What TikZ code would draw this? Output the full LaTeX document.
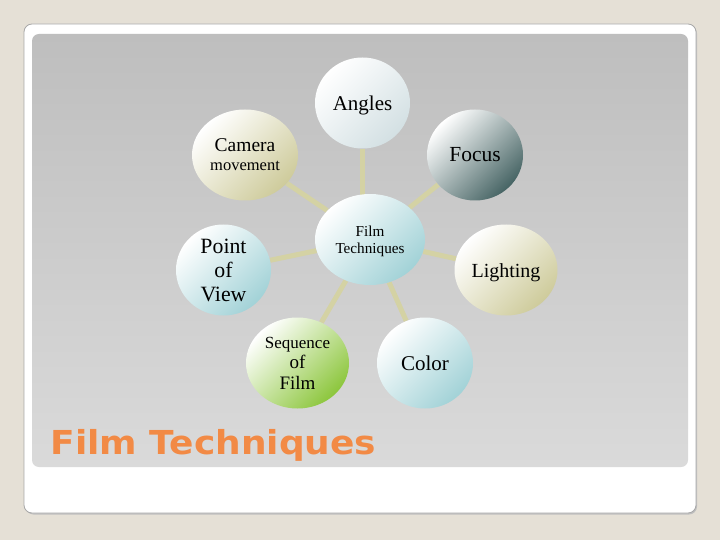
\documentclass[tikz,border=0pt]{standalone}
\usepackage{fontspec}
\setmainfont{Liberation Serif}
\newfontfamily\titlefont{DejaVu Sans}[FakeStretch=1.09]
\usetikzlibrary{shapes.geometric}
\pgfdeclarelayer{bg}
\pgfdeclarelayer{conn}
\pgfsetlayers{bg,conn,main}
\definecolor{pagebg}{HTML}{E5E0D6}
\definecolor{cardline}{HTML}{A8A8A8}
\definecolor{paneltop}{HTML}{BEBEBE}
\definecolor{panelbot}{HTML}{DADADA}
\definecolor{connc}{HTML}{D4D2A4}
\definecolor{titlec}{HTML}{F28A45}
\definecolor{angc}{HTML}{D3E0E3}
\definecolor{khakic}{HTML}{CECB9B}
\definecolor{focusc}{HTML}{466464}
\definecolor{tealc}{HTML}{A2D2D7}
\definecolor{greenc}{HTML}{8CC63C}
\begin{document}
\begin{tikzpicture}[x=1pt,y=-1pt,
  bub/.style={ellipse, inner sep=0pt, align=center, shading=axis,
    top color=white, middle color=white, bottom color=#1, shading angle=45},
  conn/.style={line width=5pt, draw=connc}]
\useasboundingbox (0,0) rectangle (720,540);
\begin{pgfonlayer}{bg}
\fill[pagebg] (0,0) rectangle (720,540);
\fill[black!25, rounded corners=8pt] (25.5,25.5) rectangle (697,514.5);
\draw[cardline, fill=white, line width=0.8pt, rounded corners=8pt] (24,24) rectangle (696,513);
\shade[top color=paneltop, bottom color=panelbot, rounded corners=7pt] (32,34) rectangle (688,467);
\end{pgfonlayer}

\node[bub=angc, minimum width=95pt, minimum height=91pt, text height=28pt, text depth=12pt,
  font=\fontsize{21}{24}\selectfont] (angles) at (362.5,103) {Angles};
\node[bub=khakic, minimum width=106pt, minimum height=91pt, text height=35.7pt, text depth=4.3pt,
  font=\fontsize{19.5}{19}\selectfont] (camera) at (245,155)
  {Camera\\{\fontsize{16.5}{19}\selectfont movement}};
\node[bub=focusc, minimum width=96pt, minimum height=91pt, text height=26.7pt, text depth=13.3pt,
  font=\fontsize{21.5}{24}\selectfont] (focus) at (475,155) {Focus};
\node[bub=tealc, minimum width=110pt, minimum height=91pt, text height=34.5pt, text depth=5.5pt,
  font=\fontsize{15.2}{17.3}\selectfont] (ft) at (370,239.5) {Film\\Techniques};
\node[bub=tealc, minimum width=95pt, minimum height=91pt, text height=63.4pt, text depth=0pt,
  font=\fontsize{21.8}{24.2}\selectfont] (pov) at (223.5,270) {Point\\of\\View};
\node[bub=khakic, minimum width=103pt, minimum height=91pt, text height=27pt, text depth=13pt,
  font=\fontsize{20}{24}\selectfont] (light) at (506,270) {Lighting};
\node[bub=greenc, minimum width=103pt, minimum height=91pt, text height=52.6pt, text depth=0pt,
  font=\fontsize{19}{20.5}\selectfont] (seq) at (297.5,363)
  {{\fontsize{17}{20.5}\selectfont Sequence}\\of\\Film};
\node[bub=tealc, minimum width=96pt, minimum height=91pt, text height=27.7pt, text depth=12.3pt,
  font=\fontsize{21}{24}\selectfont] (color) at (425,363) {Color};

\begin{pgfonlayer}{conn}
\draw[conn] (angles) -- (angles |- ft);
\draw[conn] (ft) -- (camera);
\draw[conn] (ft) -- (focus);
\draw[conn] (ft) -- (pov);
\draw[conn] (ft) -- (light);
\draw[conn] (ft) -- (seq);
\draw[conn] (ft) -- (color);
\end{pgfonlayer}

\node[anchor=base west, inner sep=0pt, text=titlec, font=\titlefont\bfseries\fontsize{33}{36}\selectfont]
  (title) at (50.5,454.5) {Film Techniques};
\end{tikzpicture}
\end{document}
